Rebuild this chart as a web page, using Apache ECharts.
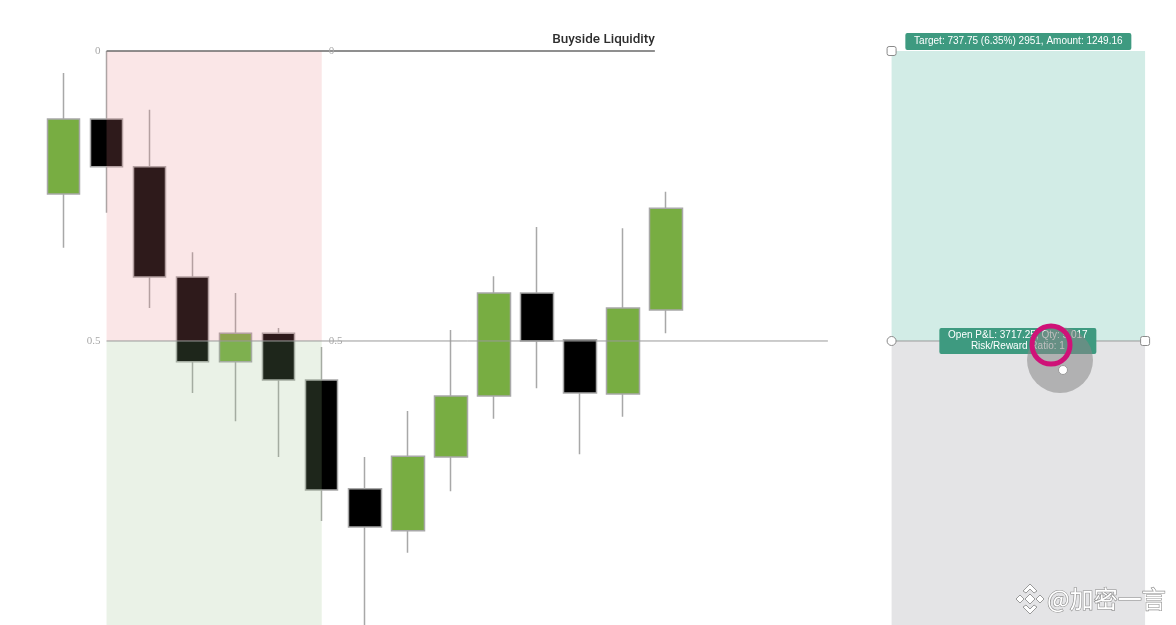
<!DOCTYPE html>
<html><head><meta charset="utf-8">
<script src="https://cdn.jsdelivr.net/npm/echarts@6/dist/echarts.min.js"></script>
<style>html,body{margin:0;padding:0;background:#fff}#c{width:1176px;height:625px}</style>
</head><body><div id="c"></div>
<script>
// ---- data ----
const candleIndex = [0, 1, 2, 3, 4, 5, 6, 7, 8, 9, 10, 11, 12, 13, 14];
const opens  = [11992, 12183, 12061, 11781, 11565, 11638, 11519, 11242, 11135, 11323, 11478, 11740, 11621, 11483, 11697];
const closes = [12183, 12061, 11781, 11565, 11638, 11519, 11239, 11145, 11325, 11478, 11740, 11618, 11486, 11702, 11956];
const lows   = [11855, 11944, 11702, 11486, 11414, 11323, 11160, 10880, 11079, 11236, 11420, 11498, 11330, 11425, 11638];
const highs  = [12300, 12356, 12206, 11844, 11740, 11651, 11603, 11323, 11440, 11646, 11783, 11908, 11621, 11905, 11998];

const fibLevels = [0, 0.5, 1];
const fibLabels = ['0', '0.5', '1'];
const fibHigh = 12355.75, fibLow = 10880.25;
const fibStartIdx = 1, fibEndIdx = 6;

const liquidityLabel = 'Buyside Liquidity';
const liquidityEndIdx = 13.74;
const midLineEndIdx = 17.76;

const entryPrice = 11618, targetPrice = 12355.75, stopPrice = 10880.25;
const positionStartIdx = 19.24, positionEndIdx = 25.13;
const targetText = 'Target: 737.75 (6.35%) 2951, Amount: 1249.16';
const pnlText = 'Open P&L: 3717.25, Qty: 5.017\nRisk/Reward Ratio: 1';
const watermarkText = '@加密一言';

// ---- derived ----
const fibPrice = l => fibHigh - l * (fibHigh - fibLow);
const candles = candleIndex.map((x, i) => [x, opens[i], closes[i], lows[i], highs[i]]);
const fibZoneData = [];
for (let i = 0; i < fibLevels.length - 1; i++) {
  fibZoneData.push([fibStartIdx, fibEndIdx, fibPrice(fibLevels[i]), fibPrice(fibLevels[i + 1])]);
}
const fibZoneColors = ['rgba(228,130,135,0.2)', 'rgba(150,192,135,0.2)'];
const posZoneData = [
  [positionStartIdx, positionEndIdx, targetPrice, entryPrice],
  [positionStartIdx, positionEndIdx, entryPrice, stopPrice]
];
const posZoneColors = ['#d2ece6', '#e4e4e6'];
const lineData = [
  [fibStartIdx, liquidityEndIdx, fibHigh],
  [fibStartIdx, midLineEndIdx, fibPrice(0.5)],
  [positionStartIdx, positionEndIdx, entryPrice]
];
const lineStyles = [
  {stroke: '#6a6a6a', lineWidth: 1.5},
  {stroke: '#9a9a9a', lineWidth: 1},
  {stroke: '#9a9a9a', lineWidth: 1}
];

const chart = echarts.init(document.getElementById('c'), null, {renderer: 'canvas'});

function rectRender(colors) {
  return function (params, api) {
    const a = api.coord([api.value(0), api.value(2)]);
    const b = api.coord([api.value(1), api.value(3)]);
    return {type: 'rect', shape: {x: a[0], y: a[1], width: b[0] - a[0], height: b[1] - a[1]},
      style: {fill: colors[params.dataIndex]}};
  };
}

const wmStyle = {fill: '#ffffff', stroke: '#9a9a9a', lineWidth: 1};
const option = {
  animation: false,
  backgroundColor: '#ffffff',
  grid: {left: 0, right: 0, top: 0, bottom: 0},
  xAxis: {type: 'value', min: -1.4754, max: 25.848, show: false},
  yAxis: {type: 'value', min: 10895.5, max: 12485.5, show: false, scale: true},
  series: [
    {type: 'custom', name: 'position', z: 1, data: posZoneData, encode: {x: [0, 1], y: [2, 3]},
      renderItem: rectRender(posZoneColors)},
    {type: 'candlestick', name: 'price', z: 2, data: candles, encode: {x: 0, y: [1, 2, 3, 4]},
      barWidth: 33, clip: true,
      itemStyle: {color: '#78ad42', color0: '#000000', borderColor: '#a8a8a8', borderColor0: '#a8a8a8', borderWidth: 1.5}},
    {type: 'custom', name: 'fib', z: 3, data: fibZoneData, encode: {x: [0, 1], y: [2, 3]},
      renderItem: rectRender(fibZoneColors)},
    {type: 'custom', name: 'lines', z: 4, data: lineData, encode: {x: [0, 1], y: 2},
      renderItem: function (params, api) {
        const a = api.coord([api.value(0), api.value(2)]);
        const b = api.coord([api.value(1), api.value(2)]);
        return {type: 'line', shape: {x1: a[0], y1: a[1], x2: b[0], y2: b[1]}, style: lineStyles[params.dataIndex]};
      }},
    {type: 'custom', name: 'fibLabels', z: 5, data: fibLevels.map((l, i) => [l, fibPrice(l), i]),
      encode: {y: 1},
      renderItem: function (params, api) {
        const p = api.value(1), i = api.value(2);
        const a = api.coord([fibStartIdx, p]), b = api.coord([fibEndIdx, p]);
        const font = '11px "Liberation Serif"';
        return {type: 'group', children: [
          {type: 'text', style: {text: fibLabels[i], x: a[0] - 6, y: a[1], align: 'right', verticalAlign: 'middle', fill: '#a8a8a8', font: font}},
          {type: 'text', style: {text: fibLabels[i], x: b[0] + 7, y: b[1], align: 'left', verticalAlign: 'middle', fill: '#a8a8a8', font: font}}
        ]};
      }},
    {type: 'custom', name: 'liqLabel', z: 5, data: [[liquidityEndIdx, fibHigh]], encode: {x: 0, y: 1},
      renderItem: function (params, api) {
        const a = api.coord([api.value(0), api.value(1)]);
        return {type: 'text', style: {text: liquidityLabel, x: a[0], y: a[1] - 11, align: 'right', verticalAlign: 'middle',
          fill: '#2e2e2e', font: '500 13.5px Roboto'}};
      }},
    {type: 'custom', name: 'posLabels', z: 6, data: [[positionStartIdx, positionEndIdx, targetPrice, entryPrice]],
      encode: {x: [0, 1], y: [2, 3]},
      renderItem: function (params, api) {
        const x0 = api.value(0), x1 = api.value(1);
        const t = api.coord([x0, api.value(2)]), tr = api.coord([x1, api.value(2)]);
        const e = api.coord([x0, api.value(3)]), er = api.coord([x1, api.value(3)]);
        const cx = (t[0] + tr[0]) / 2;
        const font = '10px "Liberation Sans"';
        return {type: 'group', children: [
          {type: 'rect', shape: {x: cx - 113, y: t[1] - 18, width: 226, height: 17, r: 2}, style: {fill: '#3e9a80'}},
          {type: 'text', style: {text: targetText, x: cx, y: t[1] - 9.5, align: 'center', verticalAlign: 'middle', fill: '#ffffff', font: font}},
          {type: 'rect', shape: {x: cx - 79, y: e[1] - 13, width: 157, height: 26, r: 2}, style: {fill: '#3e9a80'}},
          {type: 'text', style: {text: pnlText, x: cx - 0.5, y: e[1], align: 'center', verticalAlign: 'middle', fill: '#ffffff', font: font, lineHeight: 11}},
          {type: 'rect', shape: {x: t[0] - 4.5, y: t[1] - 4.5, width: 9, height: 9, r: 2}, style: {fill: '#ffffff', stroke: '#8a8a8a', lineWidth: 1}},
          {type: 'circle', shape: {cx: e[0], cy: e[1], r: 4.5}, style: {fill: '#ffffff', stroke: '#8a8a8a', lineWidth: 1}},
          {type: 'rect', shape: {x: er[0] - 4.5, y: er[1] - 4.5, width: 9, height: 9, r: 2}, style: {fill: '#ffffff', stroke: '#8a8a8a', lineWidth: 1}}
        ]};
      }}
  ],
  graphic: {elements: [
    {type: 'circle', z: 100, shape: {cx: 1060, cy: 360, r: 33}, style: {fill: 'rgba(135,135,135,0.55)'}},
    {type: 'circle', z: 200, shape: {cx: 1051, cy: 345, r: 19}, style: {fill: 'none', stroke: '#cf1278', lineWidth: 5}},
    {type: 'circle', z: 200, shape: {cx: 1063, cy: 370, r: 4.5}, style: {fill: '#ffffff', stroke: '#9a9a9a', lineWidth: 1}},
    {type: 'polygon', z: 200, shape: {points: [[1030, 594], [1035, 599], [1030, 604], [1025, 599]]}, style: wmStyle},
    {type: 'polygon', z: 200, shape: {points: [[1020, 595], [1024, 599], [1020, 603], [1016, 599]]}, style: wmStyle},
    {type: 'polygon', z: 200, shape: {points: [[1040, 595], [1044, 599], [1040, 603], [1036, 599]]}, style: wmStyle},
    {type: 'polygon', z: 200, shape: {points: [[1030, 584], [1037, 591], [1034, 593], [1030, 589], [1026, 593], [1023, 591]]}, style: wmStyle},
    {type: 'polygon', z: 200, shape: {points: [[1030, 614], [1037, 607], [1034, 605], [1030, 609], [1026, 605], [1023, 607]]}, style: wmStyle},
    {type: 'text', z: 200, x: 1047, y: 599,
      style: {text: watermarkText, font: '24px "Noto Sans CJK SC"', fill: '#ffffff', stroke: '#8a8a8a', lineWidth: 1.2,
        verticalAlign: 'middle', align: 'left', width: 220, overflow: 'none'}}
  ]}
};
chart.setOption(option);
</script>
</body></html>
